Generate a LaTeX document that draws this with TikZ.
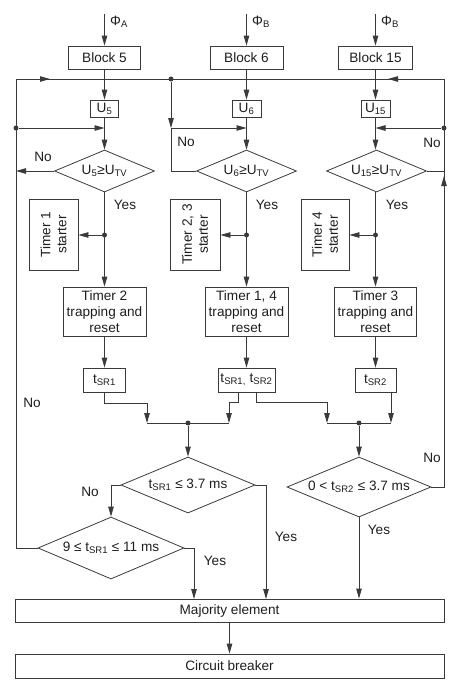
\documentclass[tikz,border=0pt]{standalone}
\usepackage{fontspec}
\setmainfont{Liberation Sans}
\usetikzlibrary{arrows.meta,shapes.geometric}
\definecolor{lc}{HTML}{3A3A3A}
\definecolor{tc}{HTML}{1E1E1E}
\begin{document}
\begin{tikzpicture}[x=1pt,y=-1pt,
  font=\fontsize{13.6}{16}\selectfont,
  box/.style={draw=lc,line width=0.8pt,inner sep=0pt,align=center,text=tc},
  dec/.style={draw=lc,line width=0.8pt,diamond,inner sep=0pt,text=tc},
  ln/.style={draw=lc,line width=0.8pt},
  arr/.style={ln,-{Triangle[length=10pt,width=5.5pt]}},
  jdot/.style={circle,fill=lc,inner sep=0pt,minimum size=5pt},
  lbl/.style={inner sep=0pt,text=tc},
]
\path[use as bounding box] (0,0) rectangle (460,697);

% ---- inputs and blocks
\coordinate (pA) at (104.5,14);
\coordinate (pB) at (246.5,14);
\coordinate (pC) at (375.5,14);
\node[lbl,anchor=west] (phA) at (110,22) {Φ\textsubscript{A}};
\node[lbl,anchor=west] (phB) at (252,22) {Φ\textsubscript{B}};
\node[lbl,anchor=west] (phC) at (381,22) {Φ\textsubscript{B}};

\node[box,minimum width=72pt,minimum height=23pt] (b5) at (104.5,57.5) {Block 5};
\node[box,minimum width=73pt,minimum height=23pt] (b6) at (246.5,57.5) {Block 6};
\node[box,minimum width=74pt,minimum height=23pt] (b15) at (375.5,57.5) {Block 15};

\node[box,minimum width=28pt,minimum height=17pt] (u5) at (104.5,108.5) {U\textsubscript{5}};
\node[box,minimum width=29pt,minimum height=17pt] (u6) at (246.5,108.5) {U\textsubscript{6}};
\node[box,minimum width=29pt,minimum height=17pt] (u15) at (375.5,108.5) {U\textsubscript{15}};

\node[dec,minimum width=100pt,minimum height=42pt] (d5) at (104.5,171) {\makebox[0pt]{U\textsubscript{5}≥U\textsubscript{TV}}};
\node[dec,minimum width=100pt,minimum height=42pt] (d6) at (246.5,171) {\makebox[0pt]{U\textsubscript{6}≥U\textsubscript{TV}}};
\node[dec,minimum width=100pt,minimum height=42pt] (d15) at (376.5,171) {\makebox[0pt]{U\textsubscript{15}≥U\textsubscript{TV}}};

% ---- starters
\node[box,rotate=90,minimum width=71pt,minimum height=49pt] (st1) at (53.5,234.5) {Timer 1\\starter};
\node[box,rotate=90,minimum width=71pt,minimum height=50pt] (st2) at (195,234.5) {Timer 2, 3\\starter};
\node[box,rotate=90,minimum width=71pt,minimum height=48pt] (st3) at (325,234.5) {Timer 4\\starter};

\node[jdot] (j1) at (104.5,235) {};
\node[jdot] (j2) at (246.5,235) {};
\node[jdot] (j3) at (375.5,235) {};

% ---- trapping boxes
\node[box,minimum width=83pt,minimum height=49pt] (tr1) at (104.5,311.5) {Timer 2\\trapping and\\reset};
\node[box,minimum width=83pt,minimum height=49pt] (tr2) at (246.5,311.5) {Timer 1, 4\\trapping and\\reset};
\node[box,minimum width=82pt,minimum height=49pt] (tr3) at (375.5,311.5) {Timer 3\\trapping and\\reset};

% ---- time boxes
\node[box,minimum width=42pt,minimum height=24pt] (ts1) at (104.5,380) {t\textsubscript{SR1}};
\node[box,minimum width=57pt,minimum height=24pt] (ts12) at (246.5,380) {t\textsubscript{SR1,} t\textsubscript{SR2}};
\node[box,minimum width=41pt,minimum height=24pt] (ts2) at (375.5,380) {t\textsubscript{SR2}};

% ---- lower decisions
\node[dec,minimum width=134pt,minimum height=56pt] (dA) at (188,485) {\makebox[0pt]{t\textsubscript{SR1} ≤ 3.7 ms}};
\node[dec,minimum width=144pt,minimum height=60pt] (dB) at (359,487) {\makebox[0pt]{0 < t\textsubscript{SR2} ≤ 3.7 ms}};
\node[dec,minimum width=146pt,minimum height=62pt] (dC) at (111,548) {\makebox[0pt]{9 ≤ t\textsubscript{SR1} ≤ 11 ms}};

\node[box,minimum width=429pt,minimum height=23pt] (maj) at (229.5,610.5) {Majority element};
\node[box,minimum width=429pt,minimum height=24pt] (cb) at (229.5,666) {Circuit breaker};

% ---- loop coordinates and junctions
\coordinate (LT) at (16,79);
\coordinate (RT) at (444,79);
\coordinate (aL) at (50,79);
\coordinate (aR) at (388,79);
\coordinate (aU) at (444,176);
\node[jdot] (jt) at (171,79) {};
\node[jdot] (jl) at (16,128) {};
\node[jdot] (jr) at (444,128) {};
\coordinate (mB) at (171,128);

% ---- merge coordinates
\coordinate (k1) at (147,403);
\coordinate (m1) at (147,423);
\coordinate (k2) at (229,402);
\coordinate (m2) at (229,423);
\coordinate (k3) at (327,402);
\coordinate (m3) at (327,423);
\coordinate (m4) at (391,423);
\node[jdot] (jA) at (188,423) {};
\node[jdot] (jB) at (359,423) {};
\coordinate (y1) at (266,599);
\coordinate (y2) at (194,599);

% ---- labels
\node[lbl] (no1) at (43,157) {No};
\node[lbl] (no2) at (186,142) {No};
\node[lbl] (no3) at (432,143) {No};
\node[lbl] (yes1) at (125,205) {Yes};
\node[lbl] (yes2) at (267,205) {Yes};
\node[lbl] (yes3) at (397,205) {Yes};
\node[lbl] (no4) at (32,403) {No};
\node[lbl] (no5) at (90,492) {No};
\node[lbl] (no6) at (432,458) {No};
\node[lbl] (yes4) at (286,537) {Yes};
\node[lbl] (yes5) at (215,561) {Yes};
\node[lbl] (yes6) at (379,530) {Yes};

% ---- connectors: top loop
\draw[ln] (LT) -- (RT);
\draw[arr] (LT) -- (aL);
\draw[arr] (RT) -- (aR);
\draw[ln] (dC.west) -- (dC.west -| LT) -- (LT);
\draw[arr] (d5.west) -- (d5.west -| LT);
\draw[arr] (jl) -- (jl -| u5.south);
\draw[arr] (jt) -- (mB);
\draw[arr] (mB) -- (mB -| u6.south);
\draw[ln] (d6.west) -- (d6.west -| mB) -- (mB);
\draw[ln] (dB.east) -- (dB.east -| RT) -- (RT);
\draw[arr] (dB.east -| RT) -- (aU);
\draw[ln] (d15.east) -- (d15.east -| RT);
\draw[arr] (jr) -- (jr -| u15.south);

% ---- columns
\draw[arr] (pA) -- (b5);
\draw[arr] (pB) -- (b6);
\draw[arr] (pC) -- (b15);
\draw[arr] (b5) -- (u5);
\draw[arr] (b6) -- (u6);
\draw[arr] (b15) -- (u15);
\draw[arr] (u5) -- (d5);
\draw[arr] (u6) -- (d6);
\draw[arr] (u15) -- (d15.north -| u15.south);
\draw[arr] (d5) -- (tr1);
\draw[arr] (d6) -- (tr2);
\draw[arr] (d15.south -| j3) -- (tr3);
\draw[arr] (j1) -- (j1 -| st1.south);
\draw[arr] (j2) -- (j2 -| st2.south);
\draw[arr] (j3) -- (j3 -| st3.south);
\draw[arr] (tr1) -- (ts1);
\draw[arr] (tr2) -- (ts12);
\draw[arr] (tr3) -- (ts2);

% ---- merging
\draw[arr] (ts1.south) |- (k1) -- (m1);
\draw[arr] ([xshift=-8.5pt]ts12.south) |- (k2) -- (m2);
\draw[arr] ([xshift=9.5pt]ts12.south) |- (k3) -- (m3);
\draw[arr] ([xshift=15.5pt]ts2.south) -- (m4);
\draw[ln] (m1) -- (m2);
\draw[ln] (m3) -- (m4);
\draw[arr] (jA) -- (dA);
\draw[arr] (jB) -- (dB);

% ---- lower decisions
\draw[arr] (dA.west) -| (dC.north);
\draw[arr] (dA.east) -| (y1);
\draw[arr] (dC.east) -| (y2);
\draw[arr] (dB.south) -- (dB.south |- maj.north);
\draw[arr] (maj) -- (cb);
\end{tikzpicture}
\end{document}
